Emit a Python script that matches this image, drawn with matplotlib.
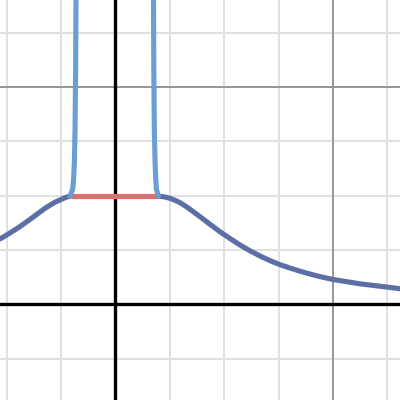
import numpy as np
import matplotlib
matplotlib.use("Agg")
import matplotlib.pyplot as plt

# Main (dark) curve
curve_left_x = [-1.062, -0.970, -0.878, -0.786, -0.694, -0.648, -0.602, -0.556, -0.510, -0.464, -0.418]
curve_left_y = [0.602, 0.657, 0.716, 0.782, 0.850, 0.884, 0.913, 0.940, 0.961, 0.982, 0.997]
curve_right_x = [0.391, 0.455, 0.501, 0.547, 0.593, 0.639, 0.685, 0.777, 0.869, 0.960, 1.052, 1.144,
                 1.236, 1.328, 1.420, 1.512, 1.604, 1.696, 1.788, 1.880, 1.999, 2.247,
                 2.495, 2.615]
curve_right_y = [0.997, 0.988, 0.976, 0.958, 0.936, 0.907, 0.875, 0.807, 0.737, 0.669, 0.607, 0.547,
                 0.494, 0.446, 0.403, 0.366, 0.335, 0.306, 0.280, 0.256, 0.230, 0.190,
                 0.160, 0.145]

# Light blue spikes
spike_left_x = [-0.418, -0.405, -0.393, -0.385, -0.378, -0.372, -0.366, -0.363]
spike_left_y = [0.997, 1.03, 1.06, 1.15, 1.30, 1.60, 2.20, 2.90]
spike_right_x = [0.395, 0.385, 0.376, 0.370, 0.364, 0.357, 0.352, 0.349]
spike_right_y = [0.997, 1.03, 1.06, 1.15, 1.30, 1.60, 2.20, 2.90]

# Red plateau
plateau_x = [-0.41, 0.39]
plateau_y = [1.0, 1.0]

XMIN, XMAX = -1.0616, 2.615
YMIN, YMAX = -0.878, 2.799

fig = plt.figure(figsize=(4, 4), dpi=100)
ax = fig.add_axes([0, 0, 1, 1])
ax.set_xlim(XMIN, XMAX)
ax.set_ylim(YMIN, YMAX)
ax.set_axis_off()

minor = 0.5
major = 2.0
for v in np.arange(np.ceil(XMIN / minor) * minor, XMAX, minor):
    if abs(v) < 1e-9:
        continue
    if abs(v / major - round(v / major)) < 1e-9:
        ax.axvline(v, color="#959595", lw=1.4, zorder=1)
    else:
        ax.axvline(v, color="#e0e0e0", lw=1.4, zorder=0)
for v in np.arange(np.ceil(YMIN / minor) * minor, YMAX, minor):
    if abs(v) < 1e-9:
        continue
    if abs(v / major - round(v / major)) < 1e-9:
        ax.axhline(v, color="#959595", lw=1.4, zorder=1)
    else:
        ax.axhline(v, color="#e0e0e0", lw=1.4, zorder=0)
ax.axvline(0, color="black", lw=2.4, zorder=2)
ax.axhline(0, color="black", lw=2.4, zorder=2)

lw = 3.7
ax.plot(plateau_x, plateau_y, color="#d9736e", lw=lw, solid_capstyle="butt", zorder=3)
ax.plot(curve_left_x, curve_left_y, color="#5d6ea5", lw=lw, solid_capstyle="round",
        solid_joinstyle="round", zorder=4)
ax.plot(curve_right_x, curve_right_y, color="#5d6ea5", lw=lw, solid_capstyle="round",
        solid_joinstyle="round", zorder=4)
ax.plot(spike_left_x, spike_left_y, color="#6b9fd1", lw=lw, solid_capstyle="round", zorder=5)
ax.plot(spike_right_x, spike_right_y, color="#6b9fd1", lw=lw, solid_capstyle="round", zorder=5)

fig.savefig("out.png", dpi=100)
